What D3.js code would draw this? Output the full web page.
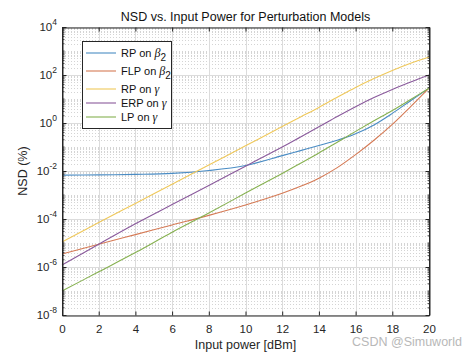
<!DOCTYPE html>
<html><head><meta charset="utf-8">
<script src="https://cdn.jsdelivr.net/npm/d3@7"></script>
<style>
body{margin:0;background:#fff;}
text{font-family:"Liberation Sans",Arial,sans-serif;}
</style></head>
<body><svg id="c" width="474" height="355"></svg>
<script>
const xValues = [0,2,4,6,8,10,12,13,14,15,16,17,18,19,20];
// log10 of NSD (%)
const rpBeta2  = [-2.17,-2.16,-2.14,-2.10,-1.98,-1.77,-1.36,-1.15,-0.94,-0.72,-0.45,-0.08,0.40,0.93,1.45];
const flpBeta2 = [-5.46,-5.05,-4.65,-4.25,-3.85,-3.42,-2.93,-2.64,-2.30,-1.86,-1.32,-0.72,-0.06,0.68,1.45];
const rpGamma  = [-4.96,-4.15,-3.35,-2.55,-1.75,-0.95,-0.15,0.25,0.65,1.07,1.48,1.85,2.19,2.49,2.75];
const erpGamma = [-5.92,-5.05,-4.20,-3.40,-2.60,-1.80,-1.00,-0.58,-0.16,0.27,0.68,1.06,1.40,1.71,2.00];
const lpGamma  = [-7.00,-6.20,-5.40,-4.55,-3.75,-2.92,-2.10,-1.68,-1.25,-0.80,-0.35,0.09,0.52,0.98,1.45];
const seriesNames = ["RP on |β|2","FLP on |β|2","RP on |γ|","ERP on |γ|","LP on |γ|"];
const seriesColors = ["#4a8cc4","#d57a55","#efc85a","#8a5a9c","#86b150"];
const xTicks = [0,2,4,6,8,10,12,14,16,18,20];
const yTickExps = [-8,-6,-4,-2,0,2,4];

const svg = d3.select("#c");
const L=62,R=429,T=27,B=315;
const x = d3.scaleLinear().domain([0,20]).range([L,R]);
const y = d3.scaleLog().domain([1e-8,1e4]).range([B,T]);
const axisCol="#262626", gridCol="#dcdcdc";

// minor grid
const minorVals=[];
for(let k=-8;k<4;k++){for(let m=1;m<=9;m++){const v=m*Math.pow(10,k); if(m===1 && k%2===0) continue; minorVals.push(v);}}
svg.append("g").selectAll("line").data(minorVals).join("line")
  .attr("x1",L).attr("x2",R).attr("y1",d=>Math.round(y(d))+0.5).attr("y2",d=>Math.round(y(d))+0.5)
  .attr("stroke","#d4d4d4").attr("stroke-width",1).attr("stroke-dasharray","1,2");
// major grid
svg.append("g").selectAll("line").data(yTickExps).join("line")
  .attr("x1",L).attr("x2",R).attr("y1",d=>Math.round(y(Math.pow(10,d)))+0.5).attr("y2",d=>Math.round(y(Math.pow(10,d)))+0.5)
  .attr("stroke",gridCol).attr("stroke-width",1);
svg.append("g").selectAll("line").data(xTicks).join("line")
  .attr("x1",d=>Math.round(x(d))+0.5).attr("x2",d=>Math.round(x(d))+0.5).attr("y1",T).attr("y2",B)
  .attr("stroke",gridCol).attr("stroke-width",1);

// lines
const all=[rpBeta2,flpBeta2,rpGamma,erpGamma,lpGamma];
const line=d3.line().x((d,i)=>x(xValues[i])).y(d=>y(Math.pow(10,d))).curve(d3.curveCatmullRom.alpha(0.5));
all.forEach((s,i)=>{
  svg.append("path").attr("d",line(s)).attr("fill","none").attr("stroke",seriesColors[i]).attr("stroke-width",1.1);
});

// axes box via d3 axes (ticks inside)
const gBottom=svg.append("g").attr("transform",`translate(0,${B+0.5})`)
  .call(d3.axisBottom(x).tickValues(xTicks).tickSizeInner(-4).tickSizeOuter(0).tickPadding(9));
const gTop=svg.append("g").attr("transform",`translate(0,${T+0.5})`)
  .call(d3.axisTop(x).tickValues(xTicks).tickSizeInner(-4).tickSizeOuter(0).tickFormat(""));
const yMajor=yTickExps.map(e=>Math.pow(10,e));
const gLeft=svg.append("g").attr("transform",`translate(${L+0.5},0)`)
  .call(d3.axisLeft(y).tickValues(yMajor).tickSizeInner(-4).tickSizeOuter(0).tickFormat(""));
const gRight=svg.append("g").attr("transform",`translate(${R+0.5},0)`)
  .call(d3.axisRight(y).tickValues(yMajor).tickSizeInner(-4).tickSizeOuter(0).tickFormat(""));
// minor ticks on y
[L+0.5,R+0.5].forEach((px,j)=>{
  svg.append("g").selectAll("line").data(minorVals).join("line")
    .attr("x1",px).attr("x2",j===0?px+2:px-2).attr("y1",d=>y(d)).attr("y2",d=>y(d))
    .attr("stroke",axisCol).attr("stroke-width",0.8);
});
[gBottom,gTop,gLeft,gRight].forEach(g=>{
  g.select(".domain").attr("stroke",axisCol);
  g.selectAll(".tick line").attr("stroke",axisCol);
  g.selectAll("text").attr("fill",axisCol).style("font-size","11.5px").style("font-family","Liberation Sans, Arial, sans-serif");
});
svg.append("line").attr("x1",L+0.5).attr("x2",L+0.5).attr("y1",T).attr("y2",B+1).attr("stroke",axisCol);
svg.append("line").attr("x1",R+0.5).attr("x2",R+0.5).attr("y1",T).attr("y2",B+1).attr("stroke",axisCol);

// y tick labels with superscripts
const yl=svg.append("g");
yTickExps.forEach(e=>{
  const t=yl.append("text").attr("x",57).attr("y",y(Math.pow(10,e))+4).attr("text-anchor","end")
    .attr("fill",axisCol).style("font-size","11.5px");
  t.append("tspan").text("10");
  t.append("tspan").attr("dy",-6).style("font-size","8.5px").text(String(e));
});

// title & labels
svg.append("text").attr("x",245.5).attr("y",21).attr("text-anchor","middle").attr("fill","#111")
  .style("font-size","12.5px").text("NSD vs. Input Power for Perturbation Models");
svg.append("text").attr("x",245.5).attr("y",349).attr("text-anchor","middle").attr("fill",axisCol)
  .style("font-size","12.5px").text("Input power [dBm]");
svg.append("text").attr("transform","translate(27,171) rotate(-90)").attr("text-anchor","middle").attr("fill",axisCol)
  .style("font-size","12.5px").text("NSD (%)");

// legend
const lg=svg.append("g");
lg.append("rect").attr("x",82.5).attr("y",41.5).attr("width",89).attr("height",87).attr("fill","#fff").attr("stroke",axisCol).attr("stroke-width",1);
const rowsY=[53,71,89,103,117];
seriesNames.forEach((n,i)=>{
  const yy=rowsY[i];
  lg.append("line").attr("x1",86).attr("x2",116).attr("y1",yy).attr("y2",yy).attr("stroke",seriesColors[i]).attr("stroke-width",1.1);
  const t=lg.append("text").attr("x",121).attr("y",yy+4).attr("fill","#111").style("font-size","11px");
  const parts=n.split("|");
  t.append("tspan").text(parts[0]);
  t.append("tspan").style("font-style","italic").style("font-family","Liberation Serif, serif").style("font-size","12px").text(parts[1]);
  if(parts[2]) t.append("tspan").attr("dy",4).style("font-size","10px").text(parts[2]);
});

// watermark
svg.append("text").attr("x",462).attr("y",346).attr("text-anchor","end").attr("fill","#b8b8b8")
  .style("font-size","12.5px").text("CSDN @Simuworld");
</script></body></html>
